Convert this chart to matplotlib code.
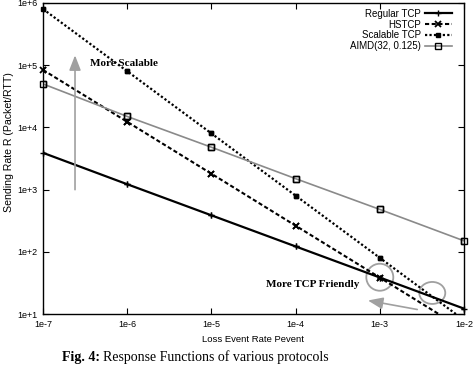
import matplotlib
matplotlib.use("Agg")
import matplotlib.pyplot as plt
from matplotlib.patches import Ellipse
from matplotlib.transforms import ScaledTranslation

# loss event rate (x) and sending rates (packets/RTT)
loss_rate = [1e-7, 1e-6, 1e-5, 1e-4, 1e-3, 1e-2]
regular_tcp = [3900, 1220, 386, 122, 38.6, 12.2]
hstcp = [84000, 12300, 1800, 263, 38.5, 5.6]
scalable_tcp = [800000, 80000, 8000, 800, 80, 8]
aimd = [50000, 15000, 4800, 1500, 480, 150]

x_ticks = [1e-7, 1e-6, 1e-5, 1e-4, 1e-3, 1e-2]
x_ticklabels = ["1e-7", "1e-6", "1e-5", "1e-4", "1e-3", "1e-2"]
y_ticks = [1e1, 1e2, 1e3, 1e4, 1e5, 1e6]
y_ticklabels = ["1e+1", "1e+2", "1e+3", "1e+4", "1e+5", "1e+6"]

sans = "Liberation Sans"
serif = "Liberation Serif"

fig = plt.figure(figsize=(4.74, 3.66), dpi=100)
ax = fig.add_axes([43 / 474, 52 / 366, 421 / 474, 311 / 366])
ax.set_xscale("log")
ax.set_yscale("log")
ax.set_xlim(1e-7, 1e-2)
ax.set_ylim(1e1, 1e6)

series = [
    ("Regular TCP", regular_tcp, dict(color="black", ls="-", lw=1.6, marker="+", ms=5, mew=1.0)),
    ("HSTCP", hstcp, dict(color="black", ls=(0, (2, 1.2)), lw=1.5, marker="x", ms=4, mew=1.3)),
    ("Scalable TCP", scalable_tcp, dict(color="black", ls=(0, (1, 1)), lw=1.6, marker="s", ms=3.5, mew=1.0)),
    ("AIMD(32, 0.125)", aimd, dict(color="#8a8a8a", ls="-", lw=1.2, marker="s", ms=5, mfc="none",
                                    mec="black", mew=1.0)),
]
for label, vals, style in series:
    ax.plot(loss_rate, vals, label=label, **style)
    # markers sitting on the frame are drawn unclipped
    pts = [(x, v) for x, v in zip(loss_rate, vals) if 1e1 <= v <= 1e6]
    mstyle = {k: v for k, v in style.items() if k not in ("ls", "lw")}
    ax.plot([p[0] for p in pts], [p[1] for p in pts], ls="none", clip_on=False, **mstyle)

ax.set_xticks(x_ticks)
ax.set_xticklabels(x_ticklabels, fontfamily=sans, fontsize=6.5)
ax.set_yticks(y_ticks)
ax.set_yticklabels(y_ticklabels, fontfamily=sans, fontsize=6.5)
ax.minorticks_off()
ax.tick_params(direction="in", length=4, width=0.8, top=True, right=True, pad=4)
for s in ax.spines.values():
    s.set_linewidth(1.0)

ax.set_xlabel("Loss Event Rate Pevent", fontfamily=sans, fontsize=6.8, labelpad=5)
ax.set_ylabel("Sending Rate R (Packet/RTT)", fontfamily=sans, fontsize=7.6, labelpad=3)
ax.yaxis.set_label_coords(-0.068, 0.553)

leg = ax.legend(loc="upper right", markerfirst=False, frameon=False, numpoints=1,
                prop={"family": sans, "size": 7}, handlelength=2.8, handletextpad=0.4,
                labelspacing=0.08, borderaxespad=0.2, bbox_to_anchor=(0.985, 1.0))

# annotations
gray = "#a0a0a0"
ax.annotate("", xy=(2.4e-7, 1.6e5), xytext=(2.4e-7, 900),
            arrowprops=dict(arrowstyle="-|>,head_length=0.9,head_width=0.35", color=gray, lw=1.2))
ax.text(3.6e-7, 1.05e5, "More Scalable", fontfamily=serif, fontweight="bold", fontsize=8,
        ha="left", va="center")
ax.annotate("", xy=(6.7e-4, 16.8), xytext=(3.0e-3, 11.6),
            arrowprops=dict(arrowstyle="-|>,head_length=0.9,head_width=0.35", color=gray, lw=1.2))
ax.text(4.45e-5, 30.3, "More TCP Friendly", fontfamily=serif, fontweight="bold", fontsize=8,
        ha="left", va="center")

for cx, cy, w, h in [(1e-3, 39, 0.27, 0.27), (4.2e-3, 21.8, 0.26, 0.22)]:
    ell = Ellipse((0, 0), w, h, fill=False, ec=gray, lw=1.3,
                  transform=fig.dpi_scale_trans + ScaledTranslation(cx, cy, ax.transData))
    ax.add_artist(ell)

# caption below the plot: bold "Fig. 4:" followed by normal text
cap_y = 2 / 366
t1 = fig.text(62 / 474, cap_y, "Fig. 4:", fontfamily=serif, fontweight="bold", fontsize=10,
              ha="left", va="bottom")
fig.canvas.draw()
bb = t1.get_window_extent()
fig.text((bb.x1 + 3) / 474, cap_y, "Response Functions of various protocols", fontfamily=serif,
         fontsize=10, ha="left", va="bottom")

fig.savefig("out.png", dpi=100)
